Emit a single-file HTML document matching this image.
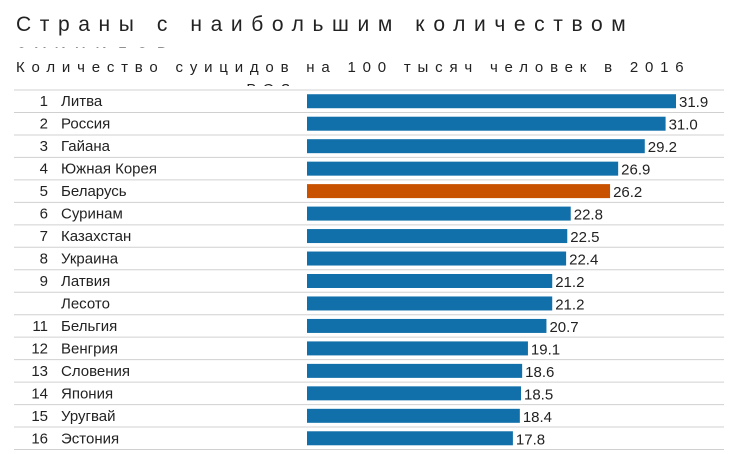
<!DOCTYPE html>
<html><head><meta charset="utf-8"><style>
body{margin:0;background:#fff;width:736px;height:454px;overflow:hidden;font-family:"Liberation Sans",sans-serif;}
.t{position:absolute;left:16px;white-space:nowrap;color:#222;overflow:hidden;}
</style></head><body>
<div class="t" style="top:11px;height:37px;font-size:21px;letter-spacing:8.6px;line-height:28px;width:720px;white-space:normal;">Страны с наибольшим количеством<br>суицидов</div>
<div class="t" style="top:57px;height:29px;font-size:15px;letter-spacing:6.8px;line-height:22px;width:720px;white-space:normal;">Количество суицидов на 100 тысяч человек в 2016<br>&nbsp;&nbsp;&nbsp;&nbsp;&nbsp;&nbsp;&nbsp;&nbsp;&nbsp;&nbsp;&nbsp;&nbsp;&nbsp;&nbsp;&nbsp;&nbsp;&nbsp;&nbsp;&nbsp;&nbsp;&nbsp;ВОЗ</div>
<svg id="c" width="736" height="454" style="position:absolute;left:0;top:0"></svg>
<script>
const ranks=["1","2","3","4","5","6","7","8","9","","11","12","13","14","15","16"];
const countries=["Литва","Россия","Гайана","Южная Корея","Беларусь","Суринам","Казахстан","Украина","Латвия","Лесото","Бельгия","Венгрия","Словения","Япония","Уругвай","Эстония"];
const values=[31.9,31.0,29.2,26.9,26.2,22.8,22.5,22.4,21.2,21.2,20.7,19.1,18.6,18.5,18.4,17.8];
const highlight="Беларусь";
const svg=document.getElementById('c');
const NS="http://www.w3.org/2000/svg";
const x0=307,k=369/31.9,top0=90,pitch=22.47,bh=14;
const xs=v=>x0+v*k;
const ys=i=>top0+i*pitch;
function mk(t,a){const e=document.createElementNS(NS,t);for(const n in a)e.setAttribute(n,a[n]);svg.appendChild(e);return e;}
for(let i=0;i<=countries.length;i++){
 const l=mk('line',{x1:14,x2:724,y1:ys(i),y2:ys(i),stroke:'#d0d0d0','stroke-width':1});
 
 
}
countries.forEach((c,i)=>{
 const cy=ys(i)+pitch/2;
 const r=mk('rect',{x:x0,y:cy-bh/2,width:xs(values[i])-x0,height:bh,fill:c===highlight?'#c85200':'#1170aa'});
 
 
 const rk=mk('text',{x:48,y:cy+5,'text-anchor':'end','font-size':15,fill:'#222'});rk.textContent=ranks[i];
 
 
 const nm=mk('text',{x:61,y:cy+5,'font-size':15,fill:'#222'});nm.textContent=c;
 
 
 const vl=mk('text',{x:xs(values[i])+3,y:cy+6,'font-size':15,fill:'#222'});vl.textContent=values[i].toFixed(1);
 
 
});
</script>
</body></html>
